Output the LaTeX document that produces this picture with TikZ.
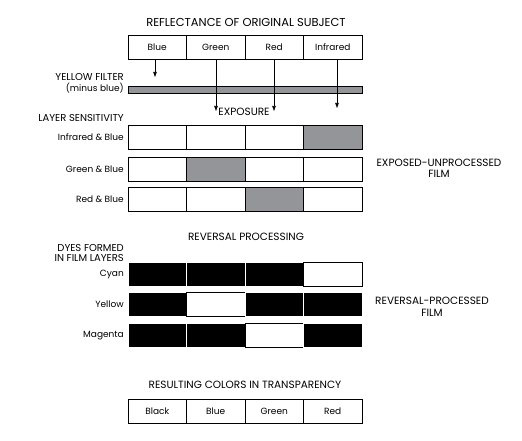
\documentclass[tikz,border=0pt]{standalone}
\usepackage{fontspec}
\setmainfont{Poppins}
\usetikzlibrary{positioning,arrows.meta}
\definecolor{filmgray}{RGB}{147,149,152}

\tikzset{
  cell/.style={draw=black, line width=0.9pt, minimum width=58.5pt, minimum height=24pt,
    inner sep=0pt, outer sep=0pt, font=\fontsize{9}{10}\selectfont},
  clear/.style={cell, fill=white},
  lit/.style={cell, fill=filmgray},
  dye/.style={cell, fill=black, draw=white},
  lbl/.style={anchor=east, align=right, inner sep=0pt, font=\fontsize{9}{10}\selectfont},
  head/.style={align=center, inner sep=0pt, font=\fontsize{10.5}{11.5}\selectfont},
  ray/.style={-{Triangle[length=5pt,width=3.5pt]}, line width=0.6pt},
}

\begin{document}
\begin{tikzpicture}[x=1pt,y=-1pt]
   \useasboundingbox (0,0) rectangle (522,441);

   % original subject
   \node[head, font=\fontsize{11.5}{12.5}\selectfont] (title) at (246,22) {REFLECTANCE OF ORIGINAL SUBJECT};
   \node[clear] (s1) at (157.25,47.5) {Blue};
   \node[clear, right=0pt of s1] (s2) {Green};
   \node[clear, right=0pt of s2] (s3) {Red};
   \node[clear, right=0pt of s3] (s4) {Infrared};

   % filter
   \node[lbl, font=\fontsize{10}{11}\selectfont] (yf) at (124,83.5) {YELLOW FILTER\\\fontsize{9}{10}\selectfont(minus blue)};
   \node[draw=black, fill=filmgray, line width=0.6pt, minimum width=234pt,
      minimum height=7pt, inner sep=0pt] (filter) at (245,89.5) {};

   \coordinate (e1) at (155,77);
   \coordinate (e2) at (216,111);
   \coordinate (e3) at (274,111);
   \coordinate (e4) at (337,108);
   \node[head] (exp) at (244,112) {EXPOSURE};

   \draw[ray] (e1 |- s1.south) -- (e1);
   \draw[ray] (e2 |- s2.south) -- (e2);
   \draw[ray] (e3 |- s3.south) -- (e3);
   \draw[ray] (e4 |- s4.south) -- (e4);

   % layer sensitivity
   \node[lbl, font=\fontsize{10}{11}\selectfont] (ls) at (124,118) {LAYER SENSITIVITY};

   \node[lbl] (la) at (124,137.5) {Infrared \& Blue};
   \node[clear] (a1) at (157.25,137.5) {};
   \node[clear, right=0pt of a1] (a2) {};
   \node[clear, right=0pt of a2] (a3) {};
   \node[lit, right=0pt of a3] (a4) {};

   \node[lbl] (lb) at (124,169.5) {Green \& Blue};
   \node[clear] (b1) at (157.25,169.5) {};
   \node[lit, right=0pt of b1] (b2) {};
   \node[clear, right=0pt of b2] (b3) {};
   \node[clear, right=0pt of b3] (b4) {};

   \node[lbl] (lc) at (124,199.5) {Red \& Blue};
   \node[clear] (c1) at (157.25,199.5) {};
   \node[clear, right=0pt of c1] (c2) {};
   \node[lit, right=0pt of c2] (c3) {};
   \node[clear, right=0pt of c3] (c4) {};

   \node[head] (unproc) at (439,168.5) {EXPOSED-UNPROCESSED\\FILM};

   % reversal processing
   \node[head] (rev) at (246,237) {REVERSAL PROCESSING};
   \node[lbl, font=\fontsize{10}{10.5}\selectfont] (dyes) at (124,253) {DYES FORMED\\IN FILM LAYERS};

   \node[lbl] (lcy) at (124,274.5) {Cyan};
   \node[dye] (cy1) at (157.25,274.5) {};
   \node[dye, right=0pt of cy1] (cy2) {};
   \node[dye, right=0pt of cy2] (cy3) {};
   \node[clear, right=0pt of cy3] (cy4) {};

   \node[lbl] (lye) at (124,304.5) {Yellow};
   \node[dye] (ye1) at (157.25,304.5) {};
   \node[clear, right=0pt of ye1] (ye2) {};
   \node[dye, right=0pt of ye2] (ye3) {};
   \node[dye, right=0pt of ye3] (ye4) {};

   \node[lbl] (lma) at (124,335.5) {Magenta};
   \node[dye] (ma1) at (157.25,335.5) {};
   \node[dye, right=0pt of ma1] (ma2) {};
   \node[clear, right=0pt of ma2] (ma3) {};
   \node[dye, right=0pt of ma3] (ma4) {};

   \node[head] (proc) at (432,307) {REVERSAL-PROCESSED\\FILM};

   % result
   \node[head] (res) at (245,385) {RESULTING COLORS IN TRANSPARENCY};
   \node[clear] (r1) at (157.25,411.5) {Black};
   \node[clear, right=0pt of r1] (r2) {Blue};
   \node[clear, right=0pt of r2] (r3) {Green};
   \node[clear, right=0pt of r3] (r4) {Red};
\end{tikzpicture}
\end{document}
